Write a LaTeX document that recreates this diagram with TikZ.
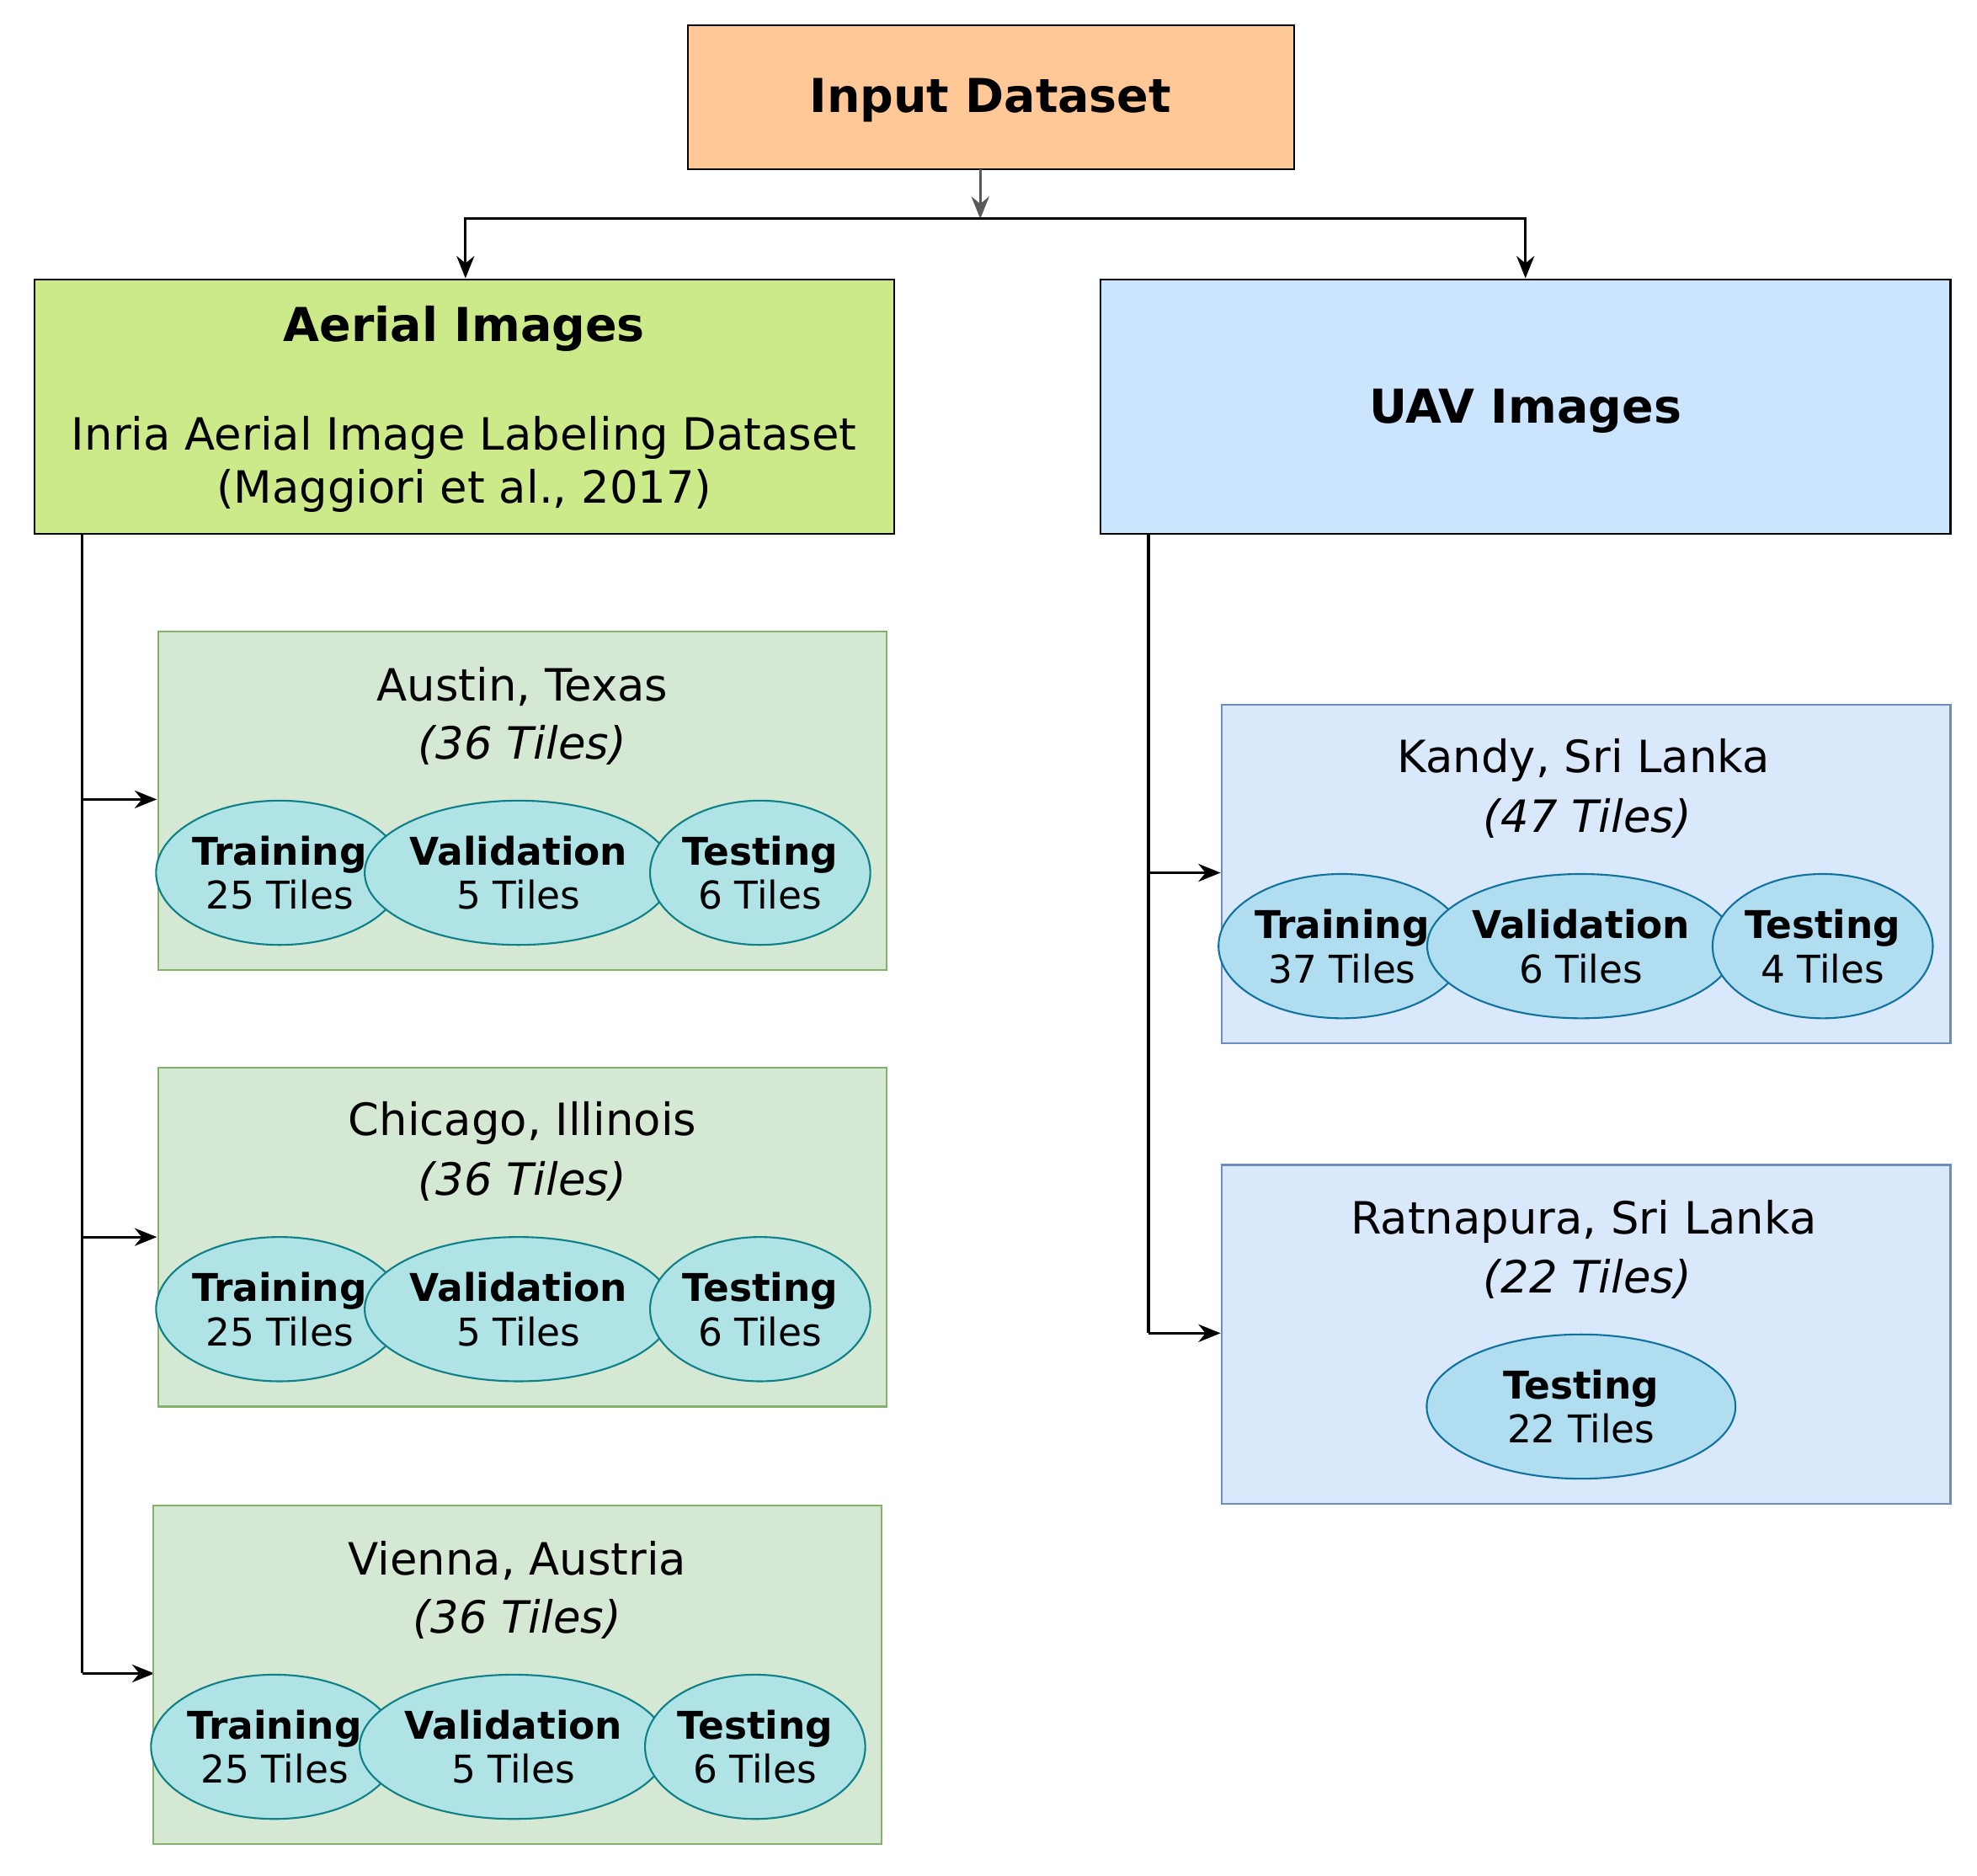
\documentclass[tikz,border=0pt]{standalone}
\usepackage{fontspec}
\setmainfont{DejaVu Sans}
\usetikzlibrary{arrows.meta,shapes.geometric}
\newcommand{\citybox}[4]{%
  \draw[city] (#1,#2) rectangle (#1+#3,#2+268);
  \node[ttl] at (#1+#3/2,#2+44) {#4};
  \node[ttl,font=\itshape\fontsize{10}{12}\selectfont] at (#1+#3/2,#2+90) {(36 Tiles)};
  \node[ell] at (#1+96,#2+191) {\textbf{Training}\\25 Tiles};
  \node[ell] at (#1+285,#2+191) {\textbf{Validation}\\5 Tiles};
  \node[ell] at (#1+476,#2+191) {\textbf{Testing}\\6 Tiles};}
\begin{document}
\begin{tikzpicture}[x=0.01cm,y=-0.01cm,
  city/.style={draw={rgb,255:red,130;green,179;blue,102}, fill={rgb,255:red,213;green,232;blue,212}},
  kcity/.style={draw={rgb,255:red,108;green,142;blue,191}, fill={rgb,255:red,218;green,232;blue,252}},
  ell/.style={ellipse, draw={rgb,255:red,14;green,128;blue,136}, fill={rgb,255:red,176;green,227;blue,230}, minimum width=1.72cm, minimum height=1.14cm, inner sep=0pt, align=center, font=\fontsize{8.6}{10}\selectfont},
  bell/.style={ell, draw={rgb,255:red,16;green,115;blue,158}, fill={rgb,255:red,177;green,221;blue,240}},
  ttl/.style={font=\fontsize{10}{12}\selectfont},
  arr/.style={-{Stealth[length=5pt,width=4pt]}, line width=0.6pt}]
\useasboundingbox (0,0) rectangle (1563,1483);
% top
\draw[fill={rgb,255:red,255;green,200;blue,150}] (544,20) rectangle (1023,134);
\node[font=\bfseries\fontsize{10.5}{12}\selectfont] (inp) at (783,79) {Input Dataset};
\draw[fill={rgb,255:red,205;green,234;blue,138}] (27,221) rectangle (707,422);
\node[font=\bfseries\fontsize{10.5}{12}\selectfont] (aer) at (367,260) {Aerial Images};
\node[ttl,align=center] (inria) at (367,367) {Inria Aerial Image Labeling Dataset\\(Maggiori et al., 2017)};
\draw[fill={rgb,255:red,204;green,229;blue,255}] (870,221) rectangle (1542,422);
\node[font=\bfseries\fontsize{10.5}{12}\selectfont] (uav) at (1206,325) {UAV Images};
\coordinate (j) at (775,173);
\draw[arr, draw=gray!70!black] (775,134) -- (j);
\draw[arr] (j) -| (368,220);
\draw[arr] (j) -| (1206,220);
% left trunk
\draw[line width=0.6pt] (65,422) -- (65,1323);
\foreach \y in {632,978} \draw[arr] (65,\y) -- (124,\y);
\draw[arr] (65,1323) -- (122,1323);
\citybox{125}{499}{576}{Austin, Texas}
\citybox{125}{844}{576}{Chicago, Illinois}
\citybox{121}{1190}{576}{Vienna, Austria}
% right trunk
\draw[line width=0.6pt] (908,422) -- (908,1054);
\draw[arr] (908,690) -- (965,690);
\draw[arr] (908,1054) -- (965,1054);
\draw[kcity] (966,557) rectangle (1542,825);
\node[ttl] (kandy) at (1252,601) {Kandy, Sri Lanka};
\node[ttl,font=\itshape\fontsize{10}{12}\selectfont] at (1255,647) {(47 Tiles)};
\node[bell] at (1061,748) {\textbf{Training}\\37 Tiles};
\node[bell] at (1250,748) {\textbf{Validation}\\6 Tiles};
\node[bell] at (1441,748) {\textbf{Testing}\\4 Tiles};
\draw[kcity] (966,921) rectangle (1542,1189);
\node[ttl] (rat) at (1252,966) {Ratnapura, Sri Lanka};
\node[ttl,font=\itshape\fontsize{10}{12}\selectfont] at (1255,1011) {(22 Tiles)};
\node[bell,minimum width=2.44cm] at (1250,1112) {\textbf{Testing}\\22 Tiles};
\end{tikzpicture}
\end{document}
